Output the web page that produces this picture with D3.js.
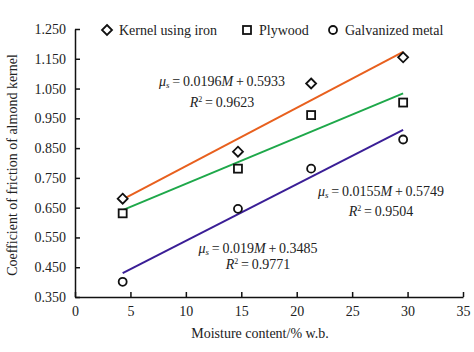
<!DOCTYPE html>
<html><head><meta charset="utf-8">
<script src="https://cdn.jsdelivr.net/npm/d3@7"></script>
<style>body{margin:0;background:#fff}text{font-family:"Liberation Serif","Times New Roman",serif;fill:#222}</style>
</head><body><svg id="c" width="474" height="352"></svg>
<script>
const moisture = [4.3, 14.7, 21.3, 29.6];
const ironVals = [0.680, 0.838, 1.067, 1.155];
const plywoodVals = [0.631, 0.781, 0.961, 1.003];
const galvVals = [0.401, 0.646, 0.781, 0.879];
const fits = [
  {name:"Kernel using iron", slope:0.0196, icpt:0.5933, r2:"0.9623", color:"#e8601e"},
  {name:"Plywood", slope:0.0155, icpt:0.5749, r2:"0.9504", color:"#1ea84a"},
  {name:"Galvanized metal", slope:0.019, icpt:0.3485, r2:"0.9771", color:"#3a1e96"}
];
const xTicks = [0,5,10,15,20,25,30,35];
const yTicks = [0.350,0.450,0.550,0.650,0.750,0.850,0.950,1.050,1.150,1.250];

const svg = d3.select("#c");
const x = d3.scaleLinear().domain([0,35]).range([75,463]);
const y = d3.scaleLinear().domain([0.35,1.25]).range([297,29]);

// regression lines
fits.forEach(f=>{
  svg.append("line")
    .attr("x1",x(moisture[0])).attr("y1",y(f.slope*moisture[0]+f.icpt))
    .attr("x2",x(moisture[3])).attr("y2",y(f.slope*moisture[3]+f.icpt))
    .attr("stroke",f.color).attr("stroke-width",2);
});

// axes
const xa = svg.append("g").attr("transform","translate(0,297)")
  .call(d3.axisBottom(x).tickValues(xTicks).tickSizeInner(-5).tickSizeOuter(0).tickPadding(9).tickFormat(d3.format("d")));
const ya = svg.append("g").attr("transform","translate(75,0)")
  .call(d3.axisLeft(y).tickValues(yTicks).tickSizeInner(-5).tickSizeOuter(0).tickPadding(9).tickFormat(d3.format(".3f")));
[xa,ya].forEach(a=>{
  a.selectAll("path,line").attr("stroke","#111").attr("stroke-width",1.5);
  a.selectAll("text").style("font-family",'"Liberation Serif",serif').style("font-size","14px").attr("fill","#222");
});

// markers
const sym = {
  diamond: (g,cx,cy)=>g.append("path").attr("d",`M${cx},${cy-5}L${cx+5},${cy}L${cx},${cy+5}L${cx-5},${cy}Z`),
  square: (g,cx,cy)=>g.append("rect").attr("x",cx-4).attr("y",cy-4).attr("width",8).attr("height",8),
  circle: (g,cx,cy)=>g.append("circle").attr("cx",cx).attr("cy",cy).attr("r",4)
};
const series = [[ironVals,"diamond"],[plywoodVals,"square"],[galvVals,"circle"]];
series.forEach(([vals,s])=>{
  vals.forEach((v,i)=>sym[s](svg,x(moisture[i]),y(v)).attr("fill","#fff").attr("stroke","#111").attr("stroke-width",1.8));
});

// legend
const leg = [[107,"diamond",fits[0].name],[247,"square",fits[1].name],[333,"circle",fits[2].name]];
leg.forEach(([lx,s,t])=>{
  sym[s](svg,lx,30).attr("fill","#fff").attr("stroke","#111").attr("stroke-width",1.8);
  svg.append("text").attr("x",lx+12).attr("y",35).style("font-size","14px").text(t);
});

// equations
function eq(xc, yEq, yR, f){
  const t = svg.append("text").attr("x",xc).attr("y",yEq).attr("text-anchor","middle").style("font-size","14px");
  t.append("tspan").style("font-style","italic").text("μ");
  t.append("tspan").style("font-style","italic").style("font-size","9px").attr("dy",2).text("s");
  t.append("tspan").attr("dy",-2).text(`\u2009=\u2009${f.slope}`);
  t.append("tspan").style("font-style","italic").text("M");
  t.append("tspan").text(`\u2009+\u2009${f.icpt}`);
  const r = svg.append("text").attr("x",xc).attr("y",yR).attr("text-anchor","middle").style("font-size","14px");
  r.append("tspan").style("font-style","italic").text("R");
  r.append("tspan").style("font-size","8px").attr("dy",-5).text("2");
  r.append("tspan").attr("dy",5).text(`\u2009=\u2009${f.r2}`);
}
eq(222, 86, 107, fits[0]);
eq(381, 196, 216, fits[1]);
eq(258, 253, 269, fits[2]);

// axis titles
svg.append("text").attr("x",260).attr("y",338).attr("text-anchor","middle").style("font-size","14px").text("Moisture content/% w.b.");
svg.append("text").attr("transform","translate(17,165) rotate(-90)").attr("text-anchor","middle").style("font-size","14px").text("Coefficient of friction of almond kernel");
</script></body></html>
